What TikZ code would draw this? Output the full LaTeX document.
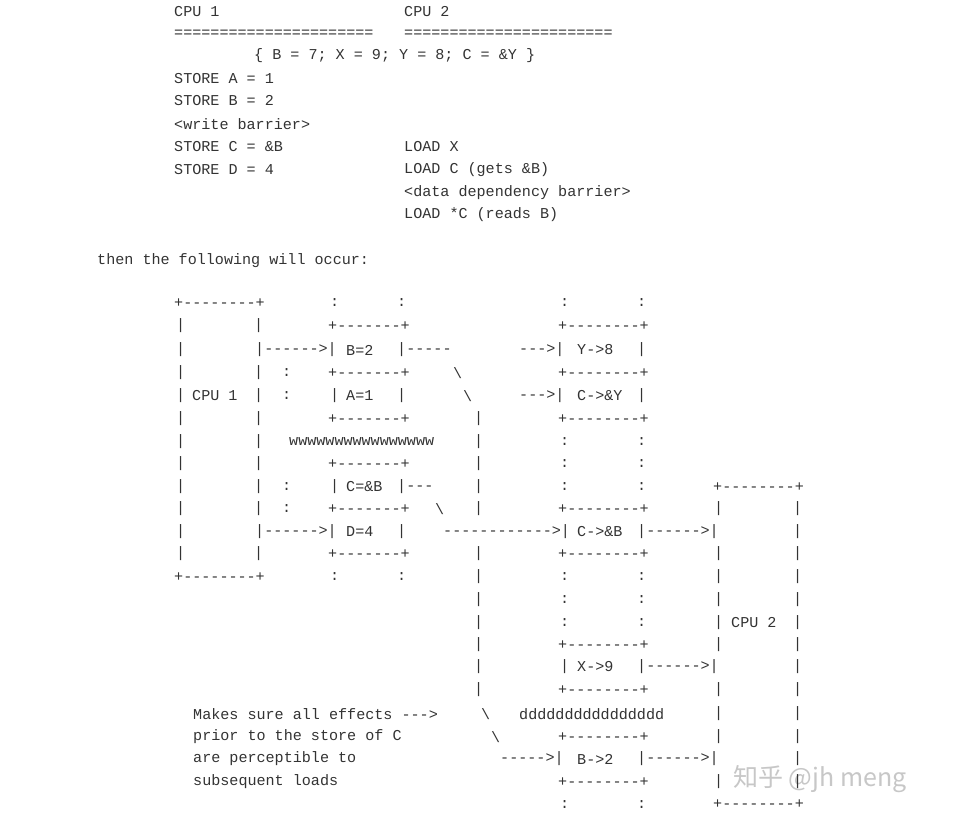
\documentclass[tikz,border=0pt]{standalone}
\usepackage{fontspec}
\newfontfamily\mono{Liberation Mono}[Ligatures=ResetAll]
\newfontfamily\cjk{Noto Sans CJK SC}
\newcounter{tn}
\newcommand\T[3]{\stepcounter{tn}\node[txt] (t\arabic{tn}) at (#1,-#2) {#3};}
\begin{document}
\begin{tikzpicture}[x=1pt,y=1pt,
  txt/.style={anchor=west,inner sep=0pt,font=\mono\fontsize{15.1}{16}\selectfont,text=black!80}]
\useasboundingbox[fill=white] (0,0) rectangle (958,-825);
% watermark
\node[anchor=west,inner sep=0pt,text=black!22,font=\cjk\fontsize{25}{27}\selectfont] (wm) at (733,-779) {知乎 @jh meng};
% code listing
\T{174}{12}{CPU 1}\T{404}{12}{CPU 2}
\T{174}{34}{======================}\T{404}{34}{=======================}
\T{254}{56}{\{ B = 7; X = 9; Y = 8; C = \&Y \}}
\T{174}{79}{STORE A = 1}
\T{174}{101}{STORE B = 2}
\T{174}{124}{<write barrier>}
\T{174}{147}{STORE C = \&B}\T{404}{147}{LOAD X}
\T{174}{170}{STORE D = 4}\T{404}{170}{LOAD C (gets \&B)}
\T{404}{193}{<data dependency barrier>}
\T{404}{215}{LOAD *C (reads B)}
\T{97}{261}{then the following will occur:}
% CPU 1 box
\T{174}{303}{+--------+}\T{174}{577}{+--------+}
\foreach \y in {326,350,373,396,419,442,464,487,509,532,554}{\T{176}{\y}{|}}
\foreach \y in {326,373,396,419,442,464,487,509,554}{\T{254}{\y}{|}}
\T{192}{396}{CPU 1}
\T{255}{350}{|------>|}\T{255}{532}{|------>|}
\foreach \y in {373,396,487,509}{\T{282}{\y}{:}}
% CPU1 cache
\T{330}{303}{:}\T{397}{303}{:}\T{330}{577}{:}\T{397}{577}{:}
\foreach \y in {326,373,419,464,509,554}{\T{328}{\y}{+-------+}}
\T{346}{350}{B=2}\T{397}{350}{|-----}
\T{330}{396}{|}\T{346}{396}{A=1}\T{397}{396}{|}
\T{289}{442}{wwwwwwwwwwwwwwww}
\T{330}{487}{|}\T{346}{487}{C=\&B}\T{397}{487}{|---}
\T{346}{532}{D=4}\T{397}{532}{|}
\T{453}{373}{\textbackslash}\T{463}{396}{\textbackslash}
\T{435}{509}{\textbackslash}
\foreach \y in {419,442,464,487,509,554,577,600,623,645,667,690}{\T{474}{\y}{|}}
\T{443}{532}{------------>|}
% CPU2 cache
\foreach \y in {303,442,464,487,577,600,623,804}{\T{560}{\y}{:}\T{637}{\y}{:}}
\foreach \y in {326,373,419,509,554,645,690,737,782}{\T{558}{\y}{+--------+}}
\T{519}{350}{--->|}\T{577}{350}{Y->8}\T{637}{350}{|}
\T{519}{396}{--->|}\T{577}{396}{C->\&Y}\T{637}{396}{|}
\T{577}{532}{C->\&B}\T{637}{532}{|------>|}
\T{560}{667}{|}\T{577}{667}{X->9}\T{637}{667}{|------>|}
\T{519}{714}{dddddddddddddddd}
\T{500}{759}{----->|}\T{577}{759}{B->2}\T{637}{759}{|------>|}
\T{481}{714}{\textbackslash}\T{491}{737}{\textbackslash}
% CPU 2 box
\T{713}{487}{+--------+}\T{713}{804}{+--------+}
\foreach \y in {509,554,577,600,623,645,690,714,737,782}{\T{714}{\y}{|}}
\foreach \y in {509,532,554,577,600,623,645,667,690,714,737,759,782}{\T{793}{\y}{|}}
\T{731}{623}{CPU 2}
% note
\T{193}{714}{Makes sure all effects --->}
\T{193}{737}{prior to the store of C}
\T{193}{759}{are perceptible to}
\T{193}{782}{subsequent loads}
\end{tikzpicture}
\end{document}
